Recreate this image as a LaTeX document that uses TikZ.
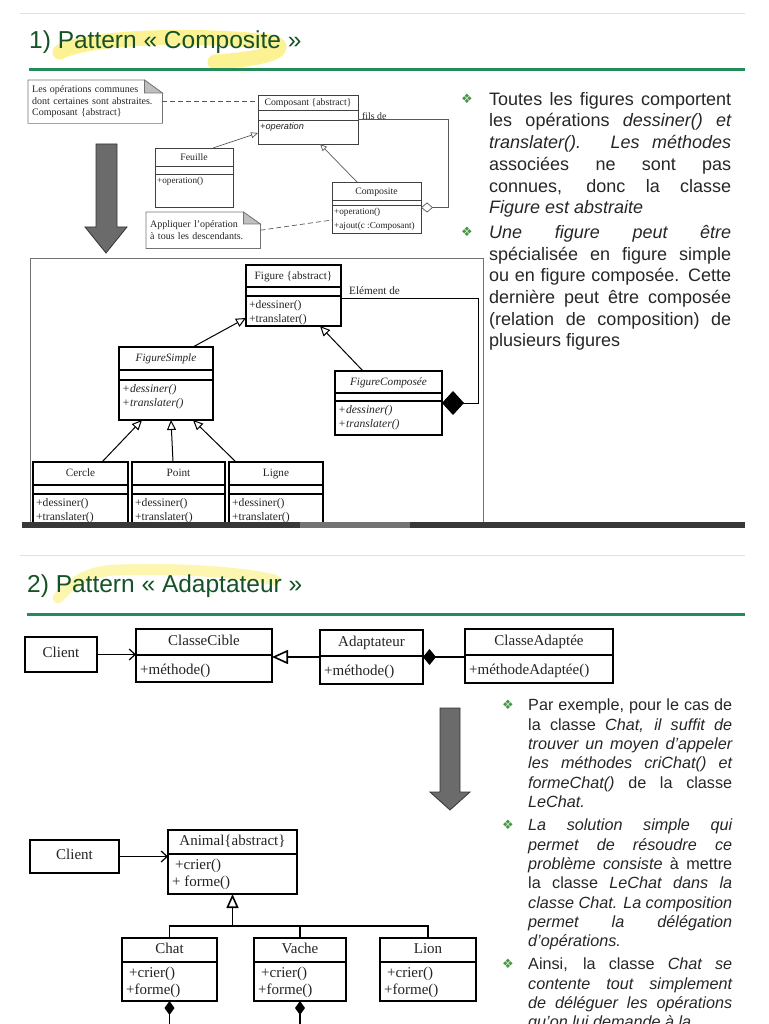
\documentclass[tikz,border=0pt]{standalone}
\usepackage{fontspec}
\setmainfont{Liberation Serif}
\setsansfont{Liberation Sans}
\newfontfamily\dejavu{DejaVu Sans}
\usetikzlibrary{arrows.meta,calc,positioning}
\hbadness=10000
\tolerance=10000
\hyphenpenalty=10000

\definecolor{titlegreen}{RGB}{22,82,40}
\definecolor{rulegreen}{RGB}{34,139,87}
\definecolor{bulletgreen}{RGB}{70,150,70}
\definecolor{umltext}{RGB}{35,35,35}
\definecolor{hilite}{RGB}{250,232,60}

% class box: name, north west corner, width, height, divider 1, divider 2, title, operations, family
\newcommand{\umlclass}[9]{%
  \node[#9 box, minimum width=#3pt, minimum height=#4pt, anchor=north west] (#1) at #2 {};
  \draw[#9 box] ([yshift=-#5pt]#1.north west) -- ([yshift=-#5pt]#1.north east);
  \draw[#9 box] ([yshift=-#6pt]#1.north west) -- ([yshift=-#6pt]#1.north east);
  \node[#9 name] (#1-name) at ([yshift=-#5pt/2]#1.north) {#7};
  \node[#9 ops, anchor=north west] (#1-ops) at ([yshift=-#6pt]#1.north west) {#8};
}

\begin{document}
\begin{tikzpicture}[x=1pt, y=-1pt,
    title/.style={font=\fontsize{24.5}{26}\selectfont\sffamily, text=titlegreen, inner sep=0pt, anchor=base west},
    rule/.style={draw=rulegreen, line width=3pt},
    edge/.style={draw=black!12, line width=1pt},
    marker/.style={draw=hilite, line cap=round, line join=round},
    para/.style={anchor=north west, inner sep=0pt, align=justify, text=black!85},
    bullet/.style={font=\dejavu\fontsize{13}{13}\selectfont, text=bulletgreen, inner sep=0pt},
    bigarrow/.style={fill=black!58, draw=black!80, line width=0.8pt},
    comp box/.style={draw=black!75, line width=0.8pt, outer sep=0pt, inner sep=0pt},
    comp name/.style={font=\fontsize{9.8}{10}\selectfont, text=umltext, inner sep=0pt, text height=0.78em, text depth=0.12em},
    comp ops/.style={font=\fontsize{9.2}{13.5}\selectfont, text=umltext, align=left, inner xsep=2pt, inner ysep=3pt},
    comp line/.style={draw=black!65, line width=0.7pt},
    comp inherit/.style={-{Triangle[length=7pt, width=6pt, fill=white]}},
    note/.style={font=\fontsize{10}{11.5}\selectfont, text=umltext, align=left, inner xsep=4pt, inner ysep=0pt, anchor=north west},
    note edge/.style={draw=black!55, line width=0.7pt},
    fold/.style={fill=black!25, draw=black!55, line width=0.7pt},
    fig box/.style={draw=black, line width=1.3pt, outer sep=0pt, inner sep=0pt},
    fig name/.style={font=\fontsize{11.2}{12}\selectfont, text=umltext, inner sep=0pt, text height=0.78em, text depth=0.12em},
    fig ops/.style={font=\fontsize{11.6}{14.5}\selectfont, text=umltext, align=left, inner xsep=3pt, inner ysep=4pt},
    fig line/.style={draw=black, line width=1pt},
    fig inherit/.style={-{Triangle[length=10pt, width=9pt, fill=white]}},
    frame/.style={draw=black!55, line width=0.8pt},
    ad box/.style={draw=black, line width=1.8pt, outer sep=0pt, inner sep=0pt},
    ad name/.style={font=\fontsize{15}{16}\selectfont, text=umltext, inner sep=0pt, text height=0.78em, text depth=0.12em},
    ad ops/.style={font=\fontsize{15}{17}\selectfont, text=umltext, align=left, inner xsep=4pt, inner ysep=5pt},
    ad line/.style={draw=black, line width=1.6pt}
]
\useasboundingbox (0,0) rectangle (768,1024);
\clip (0,0) rectangle (768,1024);

% slide edges and headings
\draw[edge] (20,14) -- (745,14);
\draw[edge] (20,555) -- (745,555);
\draw[marker, line width=15pt, opacity=0.55] (60,52) .. controls (90,36) and (200,34) .. (270,42) .. controls (290,46) and (280,58) .. (215,62);
\draw[marker, line width=11pt, opacity=0.4] (58,598) .. controls (70,585) and (85,570) .. (120,570) .. controls (180,568) and (240,572) .. (275,580);
\node[title] (title1) at (29,49) {1) Pattern « Composite »};
\node[title] (title2) at (27,592) {2) Pattern « Adaptateur »};
\draw[rule] (29,70) -- (745,70);
\draw[rule] (27,614) -- (745,614);

% composite pattern, generic form
\node[note, text width=126pt, minimum height=43pt] (commune) at (28,80) {Les opérations communes\\dont certaines sont abstraites.\\Composant \{abstract\}};
\draw[note edge] (commune.south west) -- (commune.north west) -- ([xshift=-18pt]commune.north east) -- ([yshift=-13pt]commune.north east) -- (commune.south east) -- cycle;
\draw[fold] ([xshift=-18pt]commune.north east) -- ([xshift=-18pt,yshift=-13pt]commune.north east) -- ([yshift=-13pt]commune.north east) -- cycle;
\umlclass{composant}{(258,95)}{100}{49}{15}{25}{Composant \{abstract\}}{{\sffamily\itshape +operation}}{comp}
\umlclass{feuille}{(155,148)}{78}{59}{18}{26}{Feuille}{+operation()}{comp}
\umlclass{composite}{(332,182)}{89}{51}{18}{23}{Composite}{+operation()\\+ajout(c :Composant)}{comp}
\node[note, text width=106pt, minimum height=36pt] (descend) at (146,212) {Appliquer l’opération\\à tous les descendants.};
\draw[note edge] (descend.south west) -- (descend.north west) -- ([xshift=-17pt]descend.north east) -- ([yshift=-12pt]descend.north east) -- (descend.south east) -- cycle;
\draw[fold] ([xshift=-17pt]descend.north east) -- ([xshift=-17pt,yshift=-12pt]descend.north east) -- ([yshift=-12pt]descend.north east) -- cycle;
\draw[comp line, dash pattern=on 5pt off 3pt] (commune.east) -- (commune.east -| composant.west);
\draw[comp line, dash pattern=on 5pt off 3pt] (descend.east) -- ([yshift=-12.5pt]composite.west);
\draw[comp line, comp inherit] ([xshift=19pt]feuille.north) -- ([yshift=11pt]composant.south west);
\draw[comp line, comp inherit] ([xshift=-19.5pt]composite.north) -- ([xshift=12pt]composant.south);
\coordinate (filsde) at ($(composant.east)+(90,0)$);
\draw[comp line, {Diamond[length=12pt, width=10pt, fill=white]}-] (composite.east) -| (filsde) -- (composant.east);
\node[comp name, anchor=south west] (filsde-lbl) at ([xshift=4pt,yshift=-1pt]composant.east) {fils de};

\draw[bigarrow] (96,144) -- (117,144) -- (117,227) -- (127,227) -- (106,253) -- (85,227) -- (96,227) -- cycle;

% composite pattern, figures
\begin{scope}
\clip (0,0) rectangle (768,522);
\draw[frame] (30,545) -- (30,258) -- (483,258) -- (483,545);
\umlclass{figure}{(246,265)}{95}{61}{22}{31}{Figure \{abstract\}}{+dessiner()\\+translater()}{fig}
\umlclass{fsimple}{(119,347)}{94}{73}{23}{33}{\textit{FigureSimple}}{\textit{+dessiner()}\\\textit{+translater()}}{fig}
\umlclass{fcompo}{(335,371)}{107}{64}{22}{30}{\textit{FigureComposée}}{\textit{+dessiner()}\\\textit{+translater()}}{fig}
\umlclass{cercle}{(33,462)}{95}{83}{23}{32}{Cercle}{+dessiner()\\+translater()}{fig}
\umlclass{point}{(132,462)}{93}{83}{23}{32}{Point}{+dessiner()\\+translater()}{fig}
\umlclass{ligne}{(229,462)}{94}{83}{23}{32}{Ligne}{+dessiner()\\+translater()}{fig}
\draw[fig line, fig inherit] ([xshift=27pt]fsimple.north) -- ([yshift=8pt]figure.south west);
\draw[fig line, fig inherit] ([xshift=-25.5pt]fcompo.north) -- ([xshift=26.5pt]figure.south);
\draw[fig line, fig inherit] ([xshift=21.5pt]cercle.north) -- ([xshift=-24pt]fsimple.south);
\draw[fig line, fig inherit] ([xshift=-5.5pt]point.north) -- ([xshift=5pt]fsimple.south);
\draw[fig line, fig inherit] ([xshift=-40pt]ligne.north) -- ([xshift=27pt]fsimple.south);
\coordinate (elem) at ($(figure.east)+(137,3)$);
\draw[fig line, {Diamond[length=22pt, width=24pt]}-] (fcompo.east) -| (elem) -- (figure.east |- elem);
\node[fig name, anchor=south west] (elem-lbl) at ([xshift=8pt]figure.east) {Elément de};
\end{scope}
\fill[black!78] (22,522) rectangle (745,528);
\fill[black!55] (300,522) rectangle (410,528);

% text, slide 1
\node[bullet] (b11) at (467,99) {❖};
\node[para, text width=242pt, font=\fontsize{18}{21.7}\selectfont\sffamily] (txt11) at (489,92)
  {Toutes les figures comportent\linebreak les opérations \textit{dessiner() et\linebreak translater(). Les méthodes}\linebreak associées ne sont pas\linebreak connues, donc la classe\linebreak \textit{Figure est abstraite}};
\node[bullet] (b12) at (467,232) {❖};
\node[para, text width=242pt, font=\fontsize{18}{21.7}\selectfont\sffamily] (txt12) at (489,225)
  {\textit{Une figure peut être}\linebreak spécialisée en figure simple\linebreak ou en figure composée. Cette\linebreak dernière peut être composée\linebreak (relation de composition) de\linebreak plusieurs figures};

% adapter pattern, generic form
\node[ad box, ad name, minimum width=72pt, minimum height=35pt, anchor=north west] (client) at (25,637) {Client};
\umlclass{cible}{(136,629)}{136}{53}{26}{26}{ClasseCible}{\rule{0pt}{14pt}+méthode()}{ad}
\umlclass{adapt}{(320,630)}{103}{54}{26}{26}{Adaptateur}{\rule{0pt}{14pt}+méthode()}{ad}
\umlclass{adaptee}{(465,629)}{148}{54}{26}{26}{ClasseAdaptée}{\rule{0pt}{14pt}+méthodeAdaptée()}{ad}
\draw[ad line, line width=1.2pt, -{Straight Barb[length=6pt, width=11pt]}] (client.east) -- (client.east -| cible.west);
\draw[ad line, -{Triangle[length=16pt, width=14pt, fill=white]}] (adapt.west) -- (adapt.west -| cible.east);
\draw[ad line, {Diamond[length=13pt, width=16pt]}-] (adapt.east) -- (adapt.east -| adaptee.west);

\draw[bigarrow] (440,708) -- (460,708) -- (460,792) -- (470,792) -- (450,810) -- (430,792) -- (440,792) -- cycle;

% adapter pattern, animals
\node[ad box, ad name, minimum width=89pt, minimum height=33pt, anchor=north west] (client2) at (30,840) {Client};
\umlclass{animal}{(168,830)}{129}{64}{24}{24}{Animal\{abstract\}}{\hspace{3pt}+crier()\\+ forme()}{ad}
\umlclass{chat}{(122,938)}{95}{63}{24}{24}{Chat}{\hspace{3pt}+crier()\\+forme()}{ad}
\umlclass{vache}{(254,938)}{92}{63}{24}{24}{Vache}{\hspace{3pt}+crier()\\+forme()}{ad}
\umlclass{lion}{(380,938)}{96}{63}{24}{24}{Lion}{\hspace{3pt}+crier()\\+forme()}{ad}
\draw[ad line, line width=1.2pt, -{Straight Barb[length=6pt, width=11pt]}] (client2.east) -- (client2.east -| animal.west);
\coordinate (tree) at ($(animal.south)+(0,32)$);
\draw[ad line] (chat.north) |- (tree) -| (lion.north);
\draw[ad line] (vache.north) -- (vache.north |- tree);
\draw[ad line, -{Triangle[length=14pt, width=12pt, fill=white]}] (tree) -- (animal.south);
\coordinate (chatlink) at ($(chat.south)+(0,40)$);
\coordinate (vachelink) at ($(vache.south)+(0,40)$);
\draw[ad line, {Diamond[length=14pt, width=10pt]}-] (chat.south) -- (chatlink);
\draw[ad line, {Diamond[length=14pt, width=10pt]}-] (vache.south) -- (vachelink);

% text, slide 2
\node[bullet] (b21) at (508,705) {❖};
\node[para, text width=204pt, font=\fontsize{16.2}{19.3}\selectfont\sffamily] (txt21) at (528,699)
  {Par exemple, pour le cas de\linebreak la classe \textit{Chat, il suffit de\linebreak trouver un moyen d’appeler\linebreak les méthodes criChat() et\linebreak formeChat()} de la classe\linebreak \textit{LeChat.}};
\node[bullet] (b22) at (508,825) {❖};
\node[para, text width=204pt, font=\fontsize{16.2}{19.3}\selectfont\sffamily] (txt22) at (528,819)
  {\textit{La solution simple qui\linebreak permet de résoudre ce\linebreak problème consiste} à mettre\linebreak la classe \textit{LeChat dans la\linebreak classe Chat. La composition\linebreak permet la délégation\linebreak d’opérations.}};
\node[bullet] (b23) at (508,964) {❖};
\node[para, text width=204pt, font=\fontsize{16.2}{19.3}\selectfont\sffamily] (txt23) at (528,958)
  {Ainsi, la classe \textit{Chat se\linebreak contente tout simplement\linebreak de déléguer les opérations\linebreak qu’on lui demande à la}};
\end{tikzpicture}
\end{document}
